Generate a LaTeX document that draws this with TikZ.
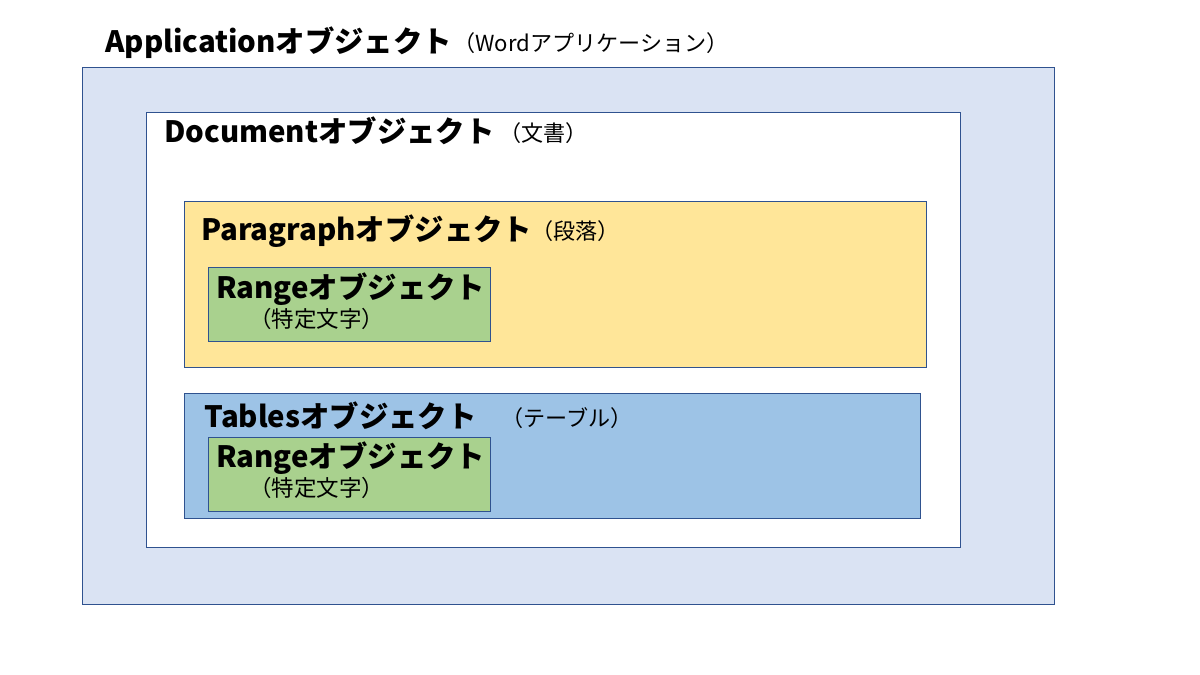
\documentclass[tikz,border=0pt]{standalone}
\usepackage{fontspec}
\setmainfont{Noto Sans CJK JP}
\usetikzlibrary{positioning}
\definecolor{frameblue}{HTML}{2F528F}
\definecolor{appfill}{HTML}{DAE3F3}
\definecolor{parafill}{HTML}{FFE699}
\definecolor{tablefill}{HTML}{9DC3E6}
\definecolor{rangefill}{HTML}{A9D18E}
\tikzset{objbox/.style = {draw=frameblue, line width=0.6pt}}
\tikzset{objtitle/.style = {anchor=base west, inner sep=0pt, font=\fontsize{20.9}{24}\selectfont\bfseries}}
\tikzset{objnote/.style = {anchor=base west, inner sep=0pt, font=\fontsize{15.7}{18}\selectfont}}

\begin{document}
\begin{tikzpicture}[x=0.025cm, y=-0.025cm]
\useasboundingbox (0, 0) rectangle (1200, 675);
% nested object boxes
\draw [objbox, fill=appfill] (82, 67) rectangle (1054, 604);
\draw [objbox, fill=white] (146, 112) rectangle (960, 547);
\draw [objbox, fill=parafill] (184, 201) rectangle (926, 367);
\draw [objbox, fill=rangefill] (208, 267) rectangle (490, 341);
\draw [objbox, fill=tablefill] (184, 393) rectangle (920, 518);
\draw [objbox, fill=rangefill] (208, 437) rectangle (490, 511);
% titles
\node [objtitle] (app) at (105, 53) {Applicationオブジェクト};
\node [objnote] (appnote) at (453, 52) {（Wordアプリケーション）};
\node [objtitle] (doc) at (164, 143) {Documentオブジェクト};
\node [objnote] (docnote) at (499, 142) {（文書）};
\node [objtitle] (para) at (201, 240) {Paragraphオブジェクト};
\node [objnote] (paranote) at (531, 239) {（段落）};
\node [objtitle] (rangeA) at (216, 298) {Rangeオブジェクト};
\node [objnote, font=\fontsize{16}{19}\selectfont] (rangeAnote) at (249, 327) {（特定文字）};
\node [objtitle] (tables) at (204, 427) {Tablesオブジェクト};
\node [objnote] (tablesnote) at (501, 426) {（テーブル）};
\node [objtitle] (rangeB) at (216, 467) {Rangeオブジェクト};
\node [objnote, font=\fontsize{16}{19}\selectfont] (rangeBnote) at (249, 496) {（特定文字）};
\end{tikzpicture}
\end{document}
